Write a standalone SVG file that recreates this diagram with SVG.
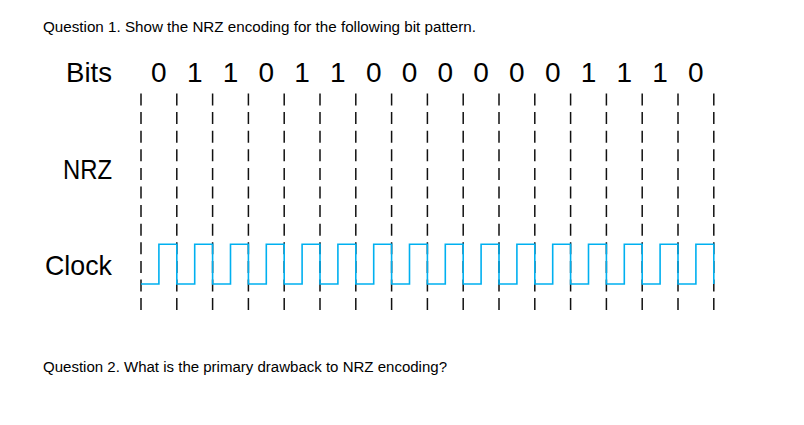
<svg xmlns="http://www.w3.org/2000/svg" width="804" height="425" viewBox="0 0 804 425">
  <style>
    .q { font-family: "Liberation Sans", Arial, sans-serif; font-size: 15.5px; fill: #000; }
    .lbl { font-family: "Liberation Sans", Arial, sans-serif; font-size: 28px; fill: #000; }
    .bit { font-family: "Liberation Sans", Arial, sans-serif; font-size: 28px; fill: #000; text-anchor: middle; }
    .grid line { stroke: #111; stroke-width: 1.5; stroke-dasharray: 12 6.6; }
    .clk { fill: none; stroke: #00B0F0; stroke-width: 1.6; }
  </style>
  <rect width="804" height="425" fill="#fff"/>

  <g id="question1">
    <text class="q" x="43" y="32" textLength="433" lengthAdjust="spacingAndGlyphs">Question 1. Show the NRZ encoding for the following bit pattern.</text>
  </g>

  <g id="row-labels">
    <text class="lbl" x="66" y="82" textLength="46" lengthAdjust="spacingAndGlyphs">Bits</text>
    <text class="lbl" x="63" y="179" textLength="49" lengthAdjust="spacingAndGlyphs">NRZ</text>
    <text class="lbl" x="45" y="275" textLength="67" lengthAdjust="spacingAndGlyphs">Clock</text>
  </g>

  <g id="bits">
    <text class="bit" x="158.9" y="82">0</text>
    <text class="bit" x="194.7" y="82">1</text>
    <text class="bit" x="230.5" y="82">1</text>
    <text class="bit" x="266.3" y="82">0</text>
    <text class="bit" x="302.1" y="82">1</text>
    <text class="bit" x="337.9" y="82">1</text>
    <text class="bit" x="373.7" y="82">0</text>
    <text class="bit" x="409.5" y="82">0</text>
    <text class="bit" x="445.3" y="82">0</text>
    <text class="bit" x="481.1" y="82">0</text>
    <text class="bit" x="516.9" y="82">0</text>
    <text class="bit" x="552.7" y="82">0</text>
    <text class="bit" x="588.5" y="82">1</text>
    <text class="bit" x="624.3" y="82">1</text>
    <text class="bit" x="660.1" y="82">1</text>
    <text class="bit" x="695.9" y="82">0</text>
  </g>

  <g id="connectors">
    <g class="grid">
      <line x1="141" y1="93.5" x2="141" y2="310"/>
      <line x1="176.8" y1="93.5" x2="176.8" y2="310"/>
      <line x1="212.6" y1="93.5" x2="212.6" y2="310"/>
      <line x1="248.4" y1="93.5" x2="248.4" y2="310"/>
      <line x1="284.2" y1="93.5" x2="284.2" y2="310"/>
      <line x1="320" y1="93.5" x2="320" y2="310"/>
      <line x1="355.8" y1="93.5" x2="355.8" y2="310"/>
      <line x1="391.6" y1="93.5" x2="391.6" y2="310"/>
      <line x1="427.4" y1="93.5" x2="427.4" y2="310"/>
      <line x1="463.2" y1="93.5" x2="463.2" y2="310"/>
      <line x1="499" y1="93.5" x2="499" y2="310"/>
      <line x1="534.8" y1="93.5" x2="534.8" y2="310"/>
      <line x1="570.6" y1="93.5" x2="570.6" y2="310"/>
      <line x1="606.4" y1="93.5" x2="606.4" y2="310"/>
      <line x1="642.2" y1="93.5" x2="642.2" y2="310"/>
      <line x1="678" y1="93.5" x2="678" y2="310"/>
      <line x1="713.8" y1="93.5" x2="713.8" y2="310"/>
    </g>
  </g>

  <g id="clock">
    <path class="clk" d="M141,284 H158.9 V244.3 H176.8 V284 H194.7 V244.3 H212.6 V284 H230.5 V244.3 H248.4 V284 H266.3 V244.3 H284.2 V284 H302.1 V244.3 H320 V284 H337.9 V244.3 H355.8 V284 H373.7 V244.3 H391.6 V284 H409.5 V244.3 H427.4 V284 H445.3 V244.3 H463.2 V284 H481.1 V244.3 H499 V284 H516.9 V244.3 H534.8 V284 H552.7 V244.3 H570.6 V284 H588.5 V244.3 H606.4 V284 H624.3 V244.3 H642.2 V284 H660.1 V244.3 H678 V284 H695.9 V244.3 H713.8 V284"/>
  </g>

  <g id="question2">
    <text class="q" x="43" y="372" textLength="404" lengthAdjust="spacingAndGlyphs">Question 2. What is the primary drawback to NRZ encoding?</text>
  </g>
</svg>
